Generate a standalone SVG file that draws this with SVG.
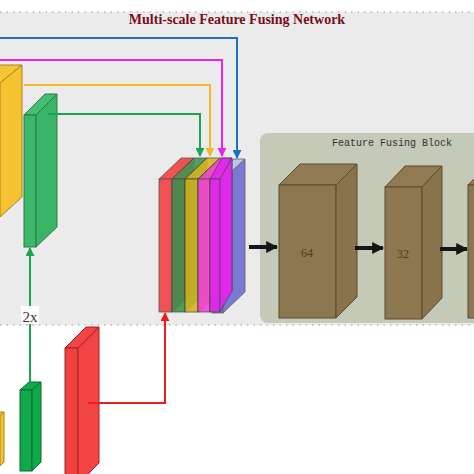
<svg xmlns="http://www.w3.org/2000/svg" width="474" height="474" viewBox="0 0 474 474">
<defs>
<style>
.dot{stroke:#b8b8b8;stroke-width:1.5;stroke-dasharray:1.5 5;fill:none}
.ln{fill:none;stroke-width:2}
.brown{fill:#8c7751;stroke:#5c4b2c;stroke-width:1}
.brownside{fill:#88734d;stroke:#5c4b2c;stroke-width:1}
.browntop{fill:#907a54;stroke:#5c4b2c;stroke-width:1}
.blk{fill:none;stroke:#151515;stroke-width:4}
.lbl{font-family:"Liberation Serif",serif;font-size:12px;fill:#4a3c22;text-anchor:middle}
</style>
<marker id="ah" viewBox="0 0 10 10" refX="9" refY="5" markerWidth="4.5" markerHeight="4.5" orient="auto" markerUnits="strokeWidth"><path d="M0,0 L10,5 L0,10 z" fill="context-stroke"/></marker>
<marker id="bh" viewBox="0 0 10 10" refX="9" refY="5" markerWidth="3" markerHeight="3" orient="auto" markerUnits="strokeWidth"><path d="M0,0 L10,5 L0,10 z" fill="#151515"/></marker>
</defs>
<rect x="0" y="0" width="474" height="474" fill="#ffffff"/>
<rect x="0" y="12" width="474" height="313" fill="#ebebeb"/>
<line class="dot" x1="0" y1="12" x2="474" y2="12"/>
<line class="dot" x1="0" y1="325" x2="474" y2="325"/>
<text x="237" y="24" font-family="Liberation Serif, serif" font-size="14" font-weight="bold" fill="#7a0f1a" text-anchor="middle">Multi-scale Feature Fusing Network</text>

<g id="ffb">
<rect x="260" y="133" width="230" height="190" rx="8" fill="#c4c9b8"/>
<text x="392" y="146" font-family="Liberation Mono, monospace" font-size="10" fill="#333" text-anchor="middle">Feature Fusing Block</text>
</g>

<g id="yellow-top">
<polygon points="-40,83 -18,65 22,65 0,83" fill="#f7c637" stroke="#a8841e" stroke-width="1"/>
<polygon points="0,83 22,65 22,197 0,217" fill="#f5c231" stroke="#a8841e" stroke-width="1"/>
</g>
<g id="green-top">
<polygon points="24,115 45,94 57,94 36,115" fill="#45bd72" stroke="#2a7a48" stroke-width="1"/>
<rect x="24" y="115" width="12" height="132" fill="#3cb86b" stroke="#2a7a48" stroke-width="1"/>
<polygon points="36,115 57,94 57,227 36,247" fill="#3ab568" stroke="#2a7a48" stroke-width="1"/>
</g>

<g id="stack">
<g opacity="0.82" stroke="#444" stroke-width="0.8">
<polygon points="212,180 234,159 245,159 223,180" fill="#b8b8f0"/>
<rect x="212" y="180" width="11" height="133" fill="#6262d0"/>
<polygon points="223,180 245,159 245,292 223,313" fill="#6262d0"/>
</g>
<g opacity="0.88" stroke="#444" stroke-width="0.8">
<polygon points="159,179 181,158 194,158 172,179" fill="#f23c3c"/>
<rect x="159" y="179" width="13" height="133" fill="#f23c3c"/>
<polygon points="172,179 194,158 194,291 172,312" fill="#f23c3c"/>
</g>
<g opacity="0.88" stroke="#444" stroke-width="0.8">
<polygon points="172,179 194,158 207,158 185,179" fill="#3e9650"/>
<rect x="172" y="179" width="13" height="133" fill="#3a8f4c"/>
<polygon points="185,179 207,158 207,291 185,312" fill="#3a8f4c"/>
</g>
<g opacity="0.88" stroke="#444" stroke-width="0.8">
<polygon points="185,179 207,158 220,158 198,179" fill="#d6b51e"/>
<rect x="185" y="179" width="13" height="133" fill="#d4b21c"/>
<polygon points="198,179 220,158 220,291 198,312" fill="#d4b21c"/>
</g>
<g opacity="0.88" stroke="#444" stroke-width="0.8">
<polygon points="198,179 220,158 232,158 210,179" fill="#f23cdc"/>
<rect x="198" y="179" width="12" height="133" fill="#f23cdc"/>
<polygon points="210,179 232,158 232,291 210,312" fill="#f23cdc"/>
</g>
<g opacity="0.85" stroke="#444" stroke-width="0.8">
<polygon points="210,179 222,158 232,158 220,179" fill="#e024f0"/>
<rect x="210" y="179" width="10" height="133" fill="#e024f0"/>
<polygon points="220,179 232,158 232,291 220,312" fill="#e024f0"/>
</g>
</g>

<g id="box64">
<polygon class="browntop" points="279,185 300,164 357,164 336,185"/>
<rect class="brown" x="279" y="185" width="57" height="133"/>
<polygon class="brownside" points="336,185 357,164 357,297 336,318"/>
<text class="lbl" x="307" y="257">64</text>
</g>
<g id="box32">
<polygon class="browntop" points="385,187 405,166 442,166 422,187"/>
<rect class="brown" x="385" y="187" width="37" height="132"/>
<polygon class="brownside" points="422,187 442,166 442,298 422,319"/>
<text class="lbl" x="403" y="258">32</text>
</g>
<g id="box3">
<polygon class="browntop" points="468,185 489,164 520,164 499,185"/>
<rect class="brown" x="468" y="185" width="40" height="133"/>
</g>

<g id="yellow-bottom">
<polygon points="-10,416 -6,412 4,412 0,416" fill="#f5c231" stroke="#a8841e" stroke-width="1"/>
<polygon points="0,416 4,412 4,462 0,466" fill="#f5c231" stroke="#a8841e" stroke-width="1"/>
</g>
<g id="green-bottom">
<polygon points="20,390 29,382 41,382 32,390" fill="#12aa4e" stroke="#0b6a30" stroke-width="1"/>
<rect x="20" y="390" width="12" height="81" fill="#0fa84b" stroke="#0b6a30" stroke-width="1"/>
<polygon points="32,390 41,382 41,462 32,471" fill="#0fa84b" stroke="#0b6a30" stroke-width="1"/>
</g>
<g id="red-bottom">
<polygon points="65,348 86,327 99,327 78,348" fill="#f24444" stroke="#a02020" stroke-width="1"/>
<rect x="65" y="348" width="13" height="140" fill="#f24040" stroke="#a02020" stroke-width="1"/>
<polygon points="78,348 99,327 99,463 78,484" fill="#f24444" stroke="#a02020" stroke-width="1"/>
</g>

<g id="connectors">
<path class="ln" d="M0,38 H237 V158" stroke="#1a72c0" marker-end="url(#ah)"/>
<path class="ln" d="M0,60 H222 V156" stroke="#ee22ee" marker-end="url(#ah)"/>
<path class="ln" d="M24,85 H210 V156" stroke="#f5b82a" marker-end="url(#ah)"/>
<path class="ln" d="M48,114 H200 V156" stroke="#19a552" marker-end="url(#ah)"/>
<path class="ln" d="M30,382 V248" stroke="#19a552" marker-end="url(#ah)"/>
<path class="ln" d="M88,403 H165 V313" stroke="#ee1c1c" marker-end="url(#ah)"/>
<line class="blk" x1="249" y1="247" x2="277" y2="247" marker-end="url(#bh)"/>
<line class="blk" x1="355" y1="248" x2="383" y2="248" marker-end="url(#bh)"/>
<line class="blk" x1="440" y1="249" x2="467" y2="249" marker-end="url(#bh)"/>
</g>
<g id="label-2x">
<rect x="21" y="306" width="18" height="18" fill="#ffffff"/>
<text x="30" y="322" font-family="Liberation Serif, serif" font-size="15" fill="#333" text-anchor="middle">2x</text>
</g>
</svg>
